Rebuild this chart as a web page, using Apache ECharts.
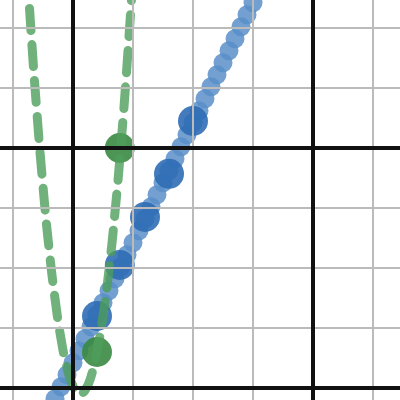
<!DOCTYPE html><html><head><script src="https://cdn.jsdelivr.net/npm/echarts@6/dist/echarts.min.js"></script></head><body style="margin:0"><div id="c" style="width:400px;height:400px"></div><script>
const curveX=[-0.8,-0.7,-0.6,-0.5,-0.4,-0.3,-0.2,-0.1,0,0.1,0.2,0.3,0.4,0.5,0.6,0.7,0.8,0.9,1.0];
const curveY=[7.52,5.95,4.57,3.36,2.33,1.49,0.82,0.34,0.03,-0.1,-0.04,0.19,0.61,1.2,1.97,2.93,4.06,5.38,6.87];
const lineX=[-0.4,-0.3,-0.2,-0.1,0,0.1,0.2,0.3,0.4,0.5,0.6,0.7,0.8,0.9,1.0,1.1,1.2,1.3,1.4,1.5,1.6,1.7,1.8,1.9,2.0,2.1,2.2,2.3,2.4,2.5,2.6,2.7,2.8,2.9,3.0,3.1];
const lineY=[-0.38,-0.18,0.02,0.22,0.42,0.62,0.82,1.02,1.22,1.42,1.62,1.82,2.02,2.22,2.42,2.62,2.82,3.02,3.22,3.42,3.62,3.82,4.02,4.22,4.42,4.62,4.82,5.02,5.22,5.42,5.62,5.82,6.02,6.22,6.42,6.62];
const blueX=[0.4,0.78,1.2,1.6,2.0], blueY=[1.2,2.05,2.85,3.57,4.45];
const greenX=[0.4,0.78], greenY=[0.6,4.0];
const gridX=[-1,1,2,3,5], gridY=[1,2,3,5,6];
const z=(a,b)=>a.map((v,i)=>[v,b[i]]);
const ch=echarts.init(document.getElementById('c'));
const ax={type:'value',axisLabel:{show:false},axisTick:{show:false},axisLine:{show:false},splitLine:{show:false}};
ch.setOption({animation:false,grid:{left:0,right:0,top:0,bottom:0},
xAxis:Object.assign({min:-1.2167,max:5.45},ax),yAxis:Object.assign({min:-0.2,max:6.4667},ax),
series:[
{type:'line',data:[],markLine:{silent:true,symbol:'none',label:{show:false},lineStyle:{color:'#bbb',width:2,type:'solid'},data:gridX.map(v=>({xAxis:v})).concat(gridY.map(v=>({yAxis:v})))}},
{type:'line',data:[],markLine:{silent:true,symbol:'none',label:{show:false},lineStyle:{color:'#111',width:4,type:'solid'},data:[{xAxis:0},{xAxis:4},{yAxis:0},{yAxis:4}]}},
{type:'line',data:z(curveX,curveY),smooth:true,showSymbol:false,lineStyle:{color:'#4e9e5a',opacity:0.8,width:9,type:[22,14],cap:'round'}},
{type:'scatter',data:z(lineX,lineY),symbolSize:19,itemStyle:{color:'#5b8fc9',opacity:0.85}},
{type:'scatter',data:z(blueX,blueY),symbolSize:30,itemStyle:{color:'#2f6db5',opacity:0.9}},
{type:'scatter',data:z(greenX,greenY),symbolSize:30,itemStyle:{color:'#3a8a42',opacity:0.9}}
]});
</script></body></html>
